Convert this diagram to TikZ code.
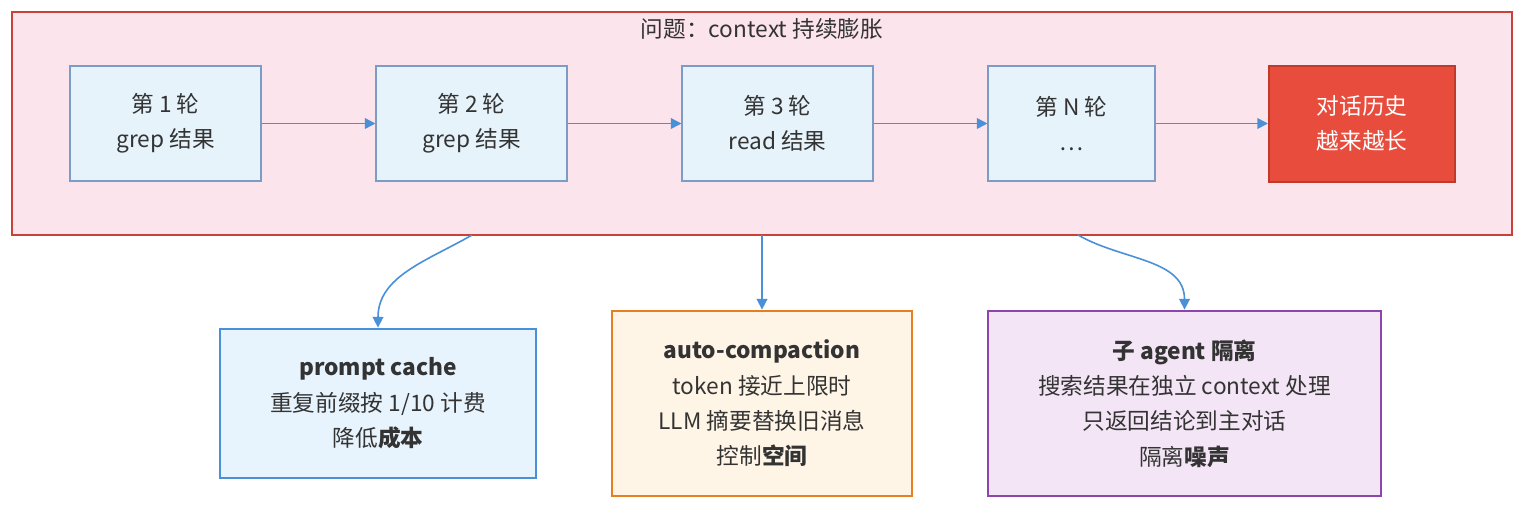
\documentclass[tikz,border=0pt]{standalone}
\usepackage{fontspec}
\setmainfont{Noto Sans CJK SC}
\usetikzlibrary{arrows.meta}
\definecolor{framered}{HTML}{C8423A}
\definecolor{framepink}{HTML}{FCE4EC}
\definecolor{turnfill}{HTML}{E6F3FB}
\definecolor{turnline}{HTML}{7A9CC6}
\definecolor{flowblue}{HTML}{4A90D9}
\definecolor{hotred}{HTML}{E74C3C}
\definecolor{hotline}{HTML}{C0392B}
\definecolor{cachefill}{HTML}{E8F4FD}
\definecolor{compactfill}{HTML}{FEF5E7}
\definecolor{compactline}{HTML}{E67E22}
\definecolor{agentfill}{HTML}{F3E5F5}
\definecolor{agentline}{HTML}{8E44AD}
\definecolor{inktext}{HTML}{333333}
\tikzset{
  frame box/.style={draw=framered,fill=framepink,line width=1.6pt,
    minimum width=1125pt,minimum height=167.25pt},
  turn box/.style={draw=turnline,fill=turnfill,line width=0.8pt,align=center,
    minimum width=143.25pt,minimum height=86.25pt},
  fix box/.style={line width=2.1pt,align=center,minimum height=138.75pt},
  flow/.style={draw=flowblue,line width=1.2pt,-{Triangle[length=8pt,width=8pt]}}
}
\begin{document}
\begin{tikzpicture}[x=0.75pt,y=-0.75pt,text=inktext,
    font=\fontsize{17}{26.5}\selectfont]
  \useasboundingbox (0,0) rectangle (1540,515);
  \node[frame box] (frame) at (762,123.5) {};
  \node (title) at (762,29) {问题：context 持续膨胀};
  \node[turn box] (t1) at (165.5,123.5) {第 1 轮\\grep 结果};
  \node[turn box] (t2) at (471.5,123.5) {第 2 轮\\grep 结果};
  \node[turn box] (t3) at (777.5,123.5) {第 3 轮\\read 结果};
  \node[turn box,minimum width=125.25pt] (tn) at (1071.5,123.5) {第 N 轮\\…};
  \node[turn box,draw=hotline,fill=hotred,text=white,line width=1.5pt,
    minimum width=139.5pt,minimum height=87pt] (hist) at (1362,123.5) {对话历史\\越来越长};
  \draw[flow] (t1) -- (t2);
  \draw[flow] (t2) -- (t3);
  \draw[flow] (t3) -- (tn);
  \draw[flow] (tn) -- (hist);
  \node[fix box,draw=flowblue,fill=cachefill,minimum width=237pt,minimum height=111.75pt]
    (cache) at (378,403.5) {\textbf{prompt cache}\\重复前缀按 1/10 计费\\降低\textbf{成本}};
  \node[fix box,draw=compactline,fill=compactfill,minimum width=225pt]
    (compact) at (762,403.5) {\textbf{auto-compaction}\\token 接近上限时\\LLM 摘要替换旧消息\\控制\textbf{空间}};
  \node[fix box,draw=agentline,fill=agentfill,minimum width=294.75pt]
    (agent) at (1184.5,403.5) {\textbf{子 agent 隔离}\\搜索结果在独立 context 处理\\只返回结论到主对话\\隔离\textbf{噪声}};
  \coordinate (o1) at (472,235);
  \coordinate (o2) at (762,235);
  \coordinate (o3) at (1078,235);
  \draw[flow] (o1) to[out=-150,in=90] (cache);
  \draw[flow] (o2) -- (compact);
  \draw[flow] (o3) to[out=-30,in=90] (agent);
\end{tikzpicture}
\end{document}
